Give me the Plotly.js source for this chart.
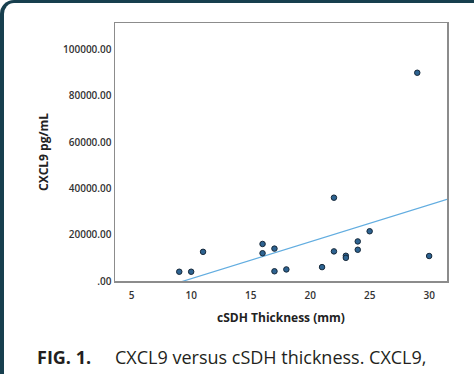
<!DOCTYPE html>
<html>
<head>
<meta charset="utf-8">
<script src="https://cdn.plot.ly/plotly-3.0.1.min.js"></script>
<style>
  html, body { margin: 0; padding: 0; background: #fff; }
  #wrap { position: relative; width: 474px; height: 374px; overflow: hidden; }
  #chart { position: absolute; left: 0; top: 0; width: 474px; height: 374px; }
  #frame { position: absolute; left: 0; top: 0; width: 490px; height: 400px;
           border-left: 4px solid #173f4e; border-top: 3px solid #173f4e;
           border-top-left-radius: 14px; box-sizing: border-box; pointer-events: none; }
</style>
</head>
<body>
<div id="wrap">
  <div id="chart"></div>
  <div id="frame"></div>
</div>
<script>
// Data
const thicknessMm = [9, 10, 11, 16, 16, 17, 17, 18, 21, 22, 22, 23, 23, 24, 24, 25, 29, 30];
const cxcl9 = [4000, 4000, 12600, 16000, 12000, 14000, 4200, 5000, 6000, 36000, 12800, 10900, 10000, 17100, 13500, 21500, 90000, 10800];
const xTickVals = [5, 10, 15, 20, 25, 30];
const yTickVals = [0, 20000, 40000, 60000, 80000, 100000];
const yTickText = ['.00', '20000.00', '40000.00', '60000.00', '80000.00', '100000.00'];
const xRange = [3.6, 31.5];
const yRange = [0, 111500];

// Linear least-squares fit line from the data
const n = thicknessMm.length;
const mx = thicknessMm.reduce((a, b) => a + b, 0) / n;
const my = cxcl9.reduce((a, b) => a + b, 0) / n;
let sxy = 0, sxx = 0;
for (let i = 0; i < n; i++) {
  sxy += (thicknessMm[i] - mx) * (cxcl9[i] - my);
  sxx += (thicknessMm[i] - mx) ** 2;
}
const slope = sxy / sxx;
const intercept = my - slope * mx;
const fitX = [xRange[0], xRange[1]];
const fitY = fitX.map(x => intercept + slope * x);

const font = 'Open Sans, Noto Sans, sans-serif';

const traces = [
  {
    x: fitX, y: fitY, type: 'scatter', mode: 'lines',
    line: { color: '#62ade0', width: 1.2 }, hoverinfo: 'skip'
  },
  {
    x: thicknessMm, y: cxcl9, type: 'scatter', mode: 'markers',
    marker: { size: 5.5, color: '#2d6391', line: { color: '#16283a', width: 1 } },
    cliponaxis: false
  }
];

const layout = {
  width: 474, height: 374,
  margin: { l: 115, r: 27, t: 23, b: 93 },
  paper_bgcolor: '#ffffff', plot_bgcolor: '#ffffff',
  showlegend: false,
  xaxis: {
    range: xRange, tickvals: xTickVals, ticks: '', showgrid: false, zeroline: false,
    showline: true, mirror: true, linecolor: '#8c8c8c', linewidth: 1.5,
    ticklabelstandoff: 4,
    tickfont: { family: font, size: 10, color: '#333333', weight: 600 },
    title: { text: 'cSDH Thickness (mm)', font: { family: font, size: 12, color: '#222222', weight: 700 }, standoff: 13 }
  },
  yaxis: {
    range: yRange, tickvals: yTickVals, ticktext: yTickText, ticks: '', showgrid: false, zeroline: false,
    showline: true, mirror: true, linecolor: '#8c8c8c', linewidth: 1.5,
    tickfont: { family: font, size: 10, color: '#333333', weight: 600 },
    title: { text: 'CXCL9 pg/mL', font: { family: font, size: 12, color: '#222222', weight: 700 }, standoff: 12 }
  },
  annotations: [
    {
      text: '<b>FIG. 1.</b>', xref: 'paper', yref: 'paper',
      x: (35 - 115) / 332, y: -(357 - 281) / 258, xanchor: 'left', yanchor: 'middle',
      showarrow: false, font: { family: font, size: 18, color: '#231f20' }
    },
    {
      text: 'CXCL9 versus cSDH thickness. CXCL9,', xref: 'paper', yref: 'paper',
      x: (113 - 115) / 332, y: -(357 - 281) / 258, xanchor: 'left', yanchor: 'middle',
      showarrow: false, font: { family: font, size: 18, color: '#231f20' }
    }
  ]
};

Plotly.newPlot('chart', traces, layout, { displayModeBar: false, staticPlot: true });
</script>
</body>
</html>
